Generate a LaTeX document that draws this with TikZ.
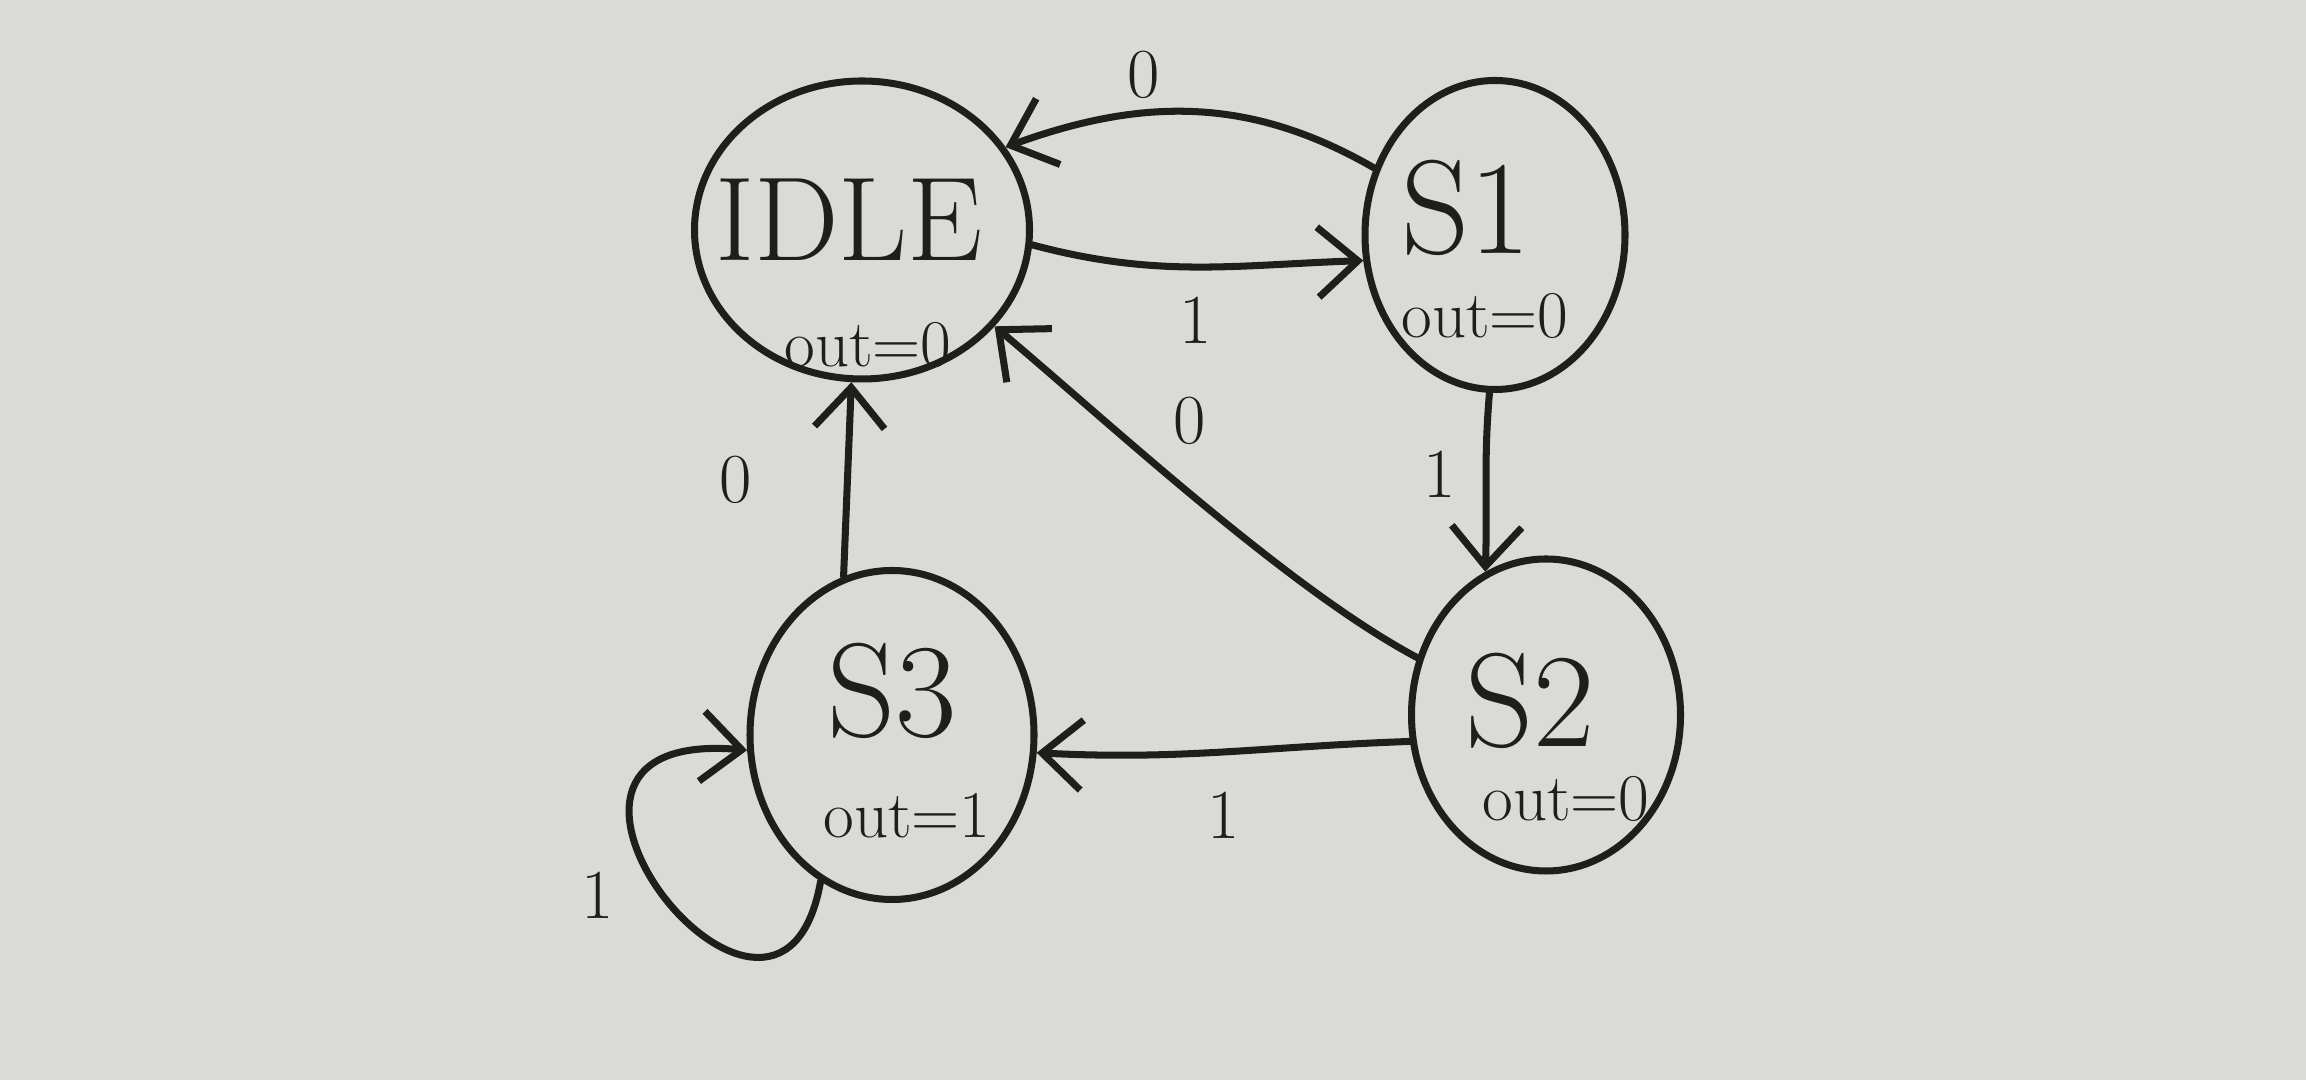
\documentclass[tikz,border=0pt]{standalone}
\usepackage{tikz}
\usepackage{xcolor}
\usetikzlibrary{shapes,
	arrows.meta,
	calc,
	positioning}
\definecolor{paper}{RGB}{218,218,215}
\definecolor{ink}{RGB}{30,30,28}

\begin{document}
\begin{tikzpicture}[
            fsm/.style={ellipse, draw=ink, line width=2pt, inner sep=0pt},
            fsmname/.style={ink, inner sep=1pt, font=\fontsize{38}{40}\selectfont},
            fsmout/.style={ink, inner sep=1pt, font=\fontsize{19}{21}\selectfont},
            lbl/.style={ink, font=\fontsize{20}{22}\selectfont},
            tr/.style={draw=ink, line width=2pt, line cap=round,
                -{Straight Barb[length=4mm, width=7mm, line width=2pt]}}]
            \fill[paper] (0, 0) rectangle (23.06, 10.8);
            \useasboundingbox (0, 0) rectangle (23.06, 10.8);

            % states
            \node[fsm, minimum width=3.35cm, minimum height=2.98cm] (idle) at (8.62, 8.50) {};
            \node[fsmname, font=\fontsize{34}{36}\selectfont] (idle-name) at ([xshift=-0.13cm, yshift=0.1cm]idle.center) {IDLE};
            \node[fsmout] (idle-out) at ([xshift=0.06cm, yshift=-1.15cm]idle.center) {out=0};

            \node[fsm, minimum width=2.6cm, minimum height=3.09cm] (s1) at (14.95, 8.45) {};
            \node[fsmname] (s1-name) at ([xshift=-0.29cm, yshift=0.27cm]s1.center) {S1};
            \node[fsmout] (s1-out) at ([xshift=-0.1cm, yshift=-0.81cm]s1.center) {out=0};

            \node[fsm, minimum width=2.69cm, minimum height=3.12cm] (s2) at (15.46, 3.65) {};
            \node[fsmname] (s2-name) at ([xshift=-0.16cm, yshift=0.14cm]s2.center) {S2};
            \node[fsmout] (s2-out) at ([xshift=0.2cm, yshift=-0.84cm]s2.center) {out=0};

            \node[fsm, minimum width=2.84cm, minimum height=3.29cm] (s3) at (8.92, 3.45) {};
            \node[fsmname] (s3-name) at ([yshift=0.44cm]s3.center) {S3};
            \node[fsmout] (s3-out) at ([xshift=0.15cm, yshift=-0.81cm]s3.center) {out=1};

            % transitions
            \draw[tr] (s1.151) to[out=150, in=20] node[lbl, pos=0.64, above] (l-s1-idle) {0} (idle.30);
            \draw[tr] (idle.-5) to[out=-15, in=182] node[lbl, pos=0.5, below=0.15cm] (l-idle-s1) {1} (s1.191);
            \draw[tr] (s1.-92) to[out=-95, in=88] node[lbl, pos=0.45, left=0.15cm] (l-s1-s2) {1} (s2.113);
            \draw[tr] (s2.156) to[out=152, in=-40, looseness=0.7] node[lbl, pos=0.6, above right=0.05cm] (l-s2-idle) {0} (idle.-36);
            \draw[tr] (s2.191) to[out=182, in=-3] node[lbl, pos=0.5, below=0.25cm] (l-s2-s3) {1} (s3.-7);
            \draw[tr] (s3.107) -- node[lbl, left=0.8cm] (l-s3-idle) {0} (idle.-94);
            \draw[tr] (s3.244) .. controls +(-100:2.4) and +(175:2.8) .. (s3.186)
                node[lbl, pos=0.5, left=0.35cm] (l-s3-s3) {1};
        \end{tikzpicture}
\end{document}
